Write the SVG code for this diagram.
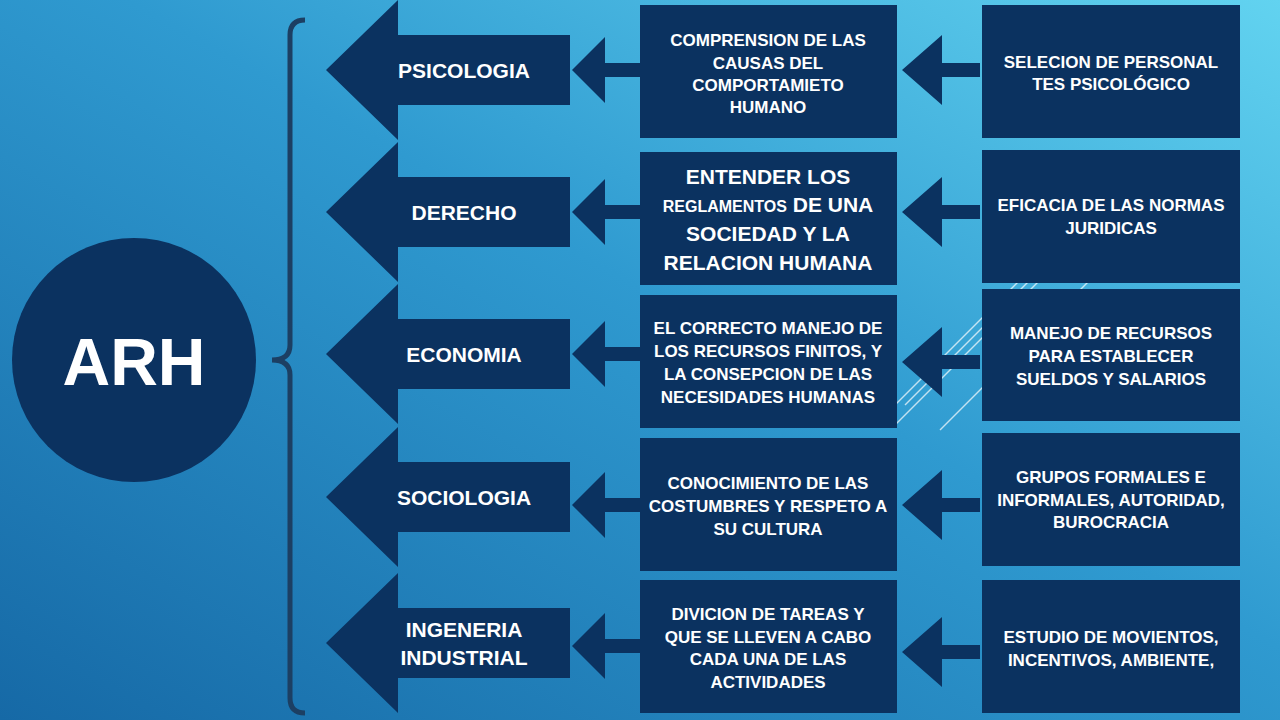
<svg xmlns="http://www.w3.org/2000/svg" width="1280" height="720" viewBox="0 0 1280 720">
<defs>
<linearGradient id="bg" x1="0" y1="1" x2="1" y2="0">
<stop offset="0" stop-color="#1669a6"/><stop offset="0.55" stop-color="#2f9ad0"/><stop offset="1" stop-color="#62d3f0"/>
</linearGradient>
<style>
.n{fill:#0b3260}
.t{fill:#fff;font-family:"Liberation Sans","DejaVu Sans",sans-serif;font-weight:bold;text-anchor:middle}
.s{font-size:17px}
.l{font-size:21px}
.d{stroke:#fff;stroke-width:1.5;opacity:0.7}
</style>
</defs>
<rect width="1280" height="720" fill="url(#bg)"/>
<g class="deco">
<line class="d" x1="880" y1="420" x2="1060" y2="240"/>
<line class="d" x1="895" y1="425" x2="1080" y2="240"/>
<line class="d" x1="905" y1="405" x2="1050" y2="260"/>
<line class="d" x1="940" y1="430" x2="1100" y2="270"/>
</g>
<g id="arh"><circle cx="134" cy="360" r="122" class="n"/><text x="134" y="385" class="t" font-size="66">ARH</text></g>
<g id="bracket"><path d="M305 20 Q290 20 290 35 V345 Q290 360 272 360 Q290 360 290 375 V698 Q290 713 305 713" fill="none" stroke="#1c3f63" stroke-width="5"/></g>
<g id="connectors" class="n">
<path d="M572 70 L605 37 V63 H640 V77 H605 V103 Z"/>
<path d="M572 212 L605 179 V205 H640 V219 H605 V245 Z"/>
<path d="M572 354 L605 321 V347 H640 V361 H605 V387 Z"/>
<path d="M572 505 L605 472 V498 H640 V512 H605 V538 Z"/>
<path d="M572 646 L605 613 V639 H640 V653 H605 V679 Z"/>
<path d="M902 70 L942 35 V63 H980 V77 H942 V105 Z"/>
<path d="M902 212 L942 177 V205 H980 V219 H942 V247 Z"/>
<path d="M902 362 L942 327 V355 H980 V369 H942 V397 Z"/>
<path d="M902 505 L942 470 V498 H980 V512 H942 V540 Z"/>
<path d="M902 652 L942 617 V645 H980 V659 H942 V687 Z"/>
</g>
<g id="psicologia"><path class="n" d="M326 70 L398 0 V35 H570 V105 H398 V140 Z"/><text x="464" y="78" class="t l">PSICOLOGIA</text></g>
<g id="derecho"><path class="n" d="M326 212 L398 142 V177 H570 V247 H398 V282 Z"/><text x="464" y="220" class="t l">DERECHO</text></g>
<g id="economia"><path class="n" d="M326 354 L398 284 V319 H570 V389 H398 V424 Z"/><text x="464" y="362" class="t l">ECONOMIA</text></g>
<g id="sociologia"><path class="n" d="M326 497 L398 427 V462 H570 V532 H398 V567 Z"/><text x="464" y="505" class="t l">SOCIOLOGIA</text></g>
<g id="ingenieria"><path class="n" d="M326 643 L398 573 V608 H570 V678 H398 V713 Z"/><text x="464" y="637" class="t l">INGENERIA</text><text x="464" y="665" class="t l">INDUSTRIAL</text></g>
<g id="m1"><rect x="640" y="5" width="257" height="133" class="n"/><text class="t s" x="768" y="46">COMPRENSION DE LAS</text><text class="t s" x="768" y="69">CAUSAS DEL</text><text class="t s" x="768" y="91">COMPORTAMIETO</text><text class="t s" x="768" y="113">HUMANO</text></g>
<g id="m2"><rect x="640" y="152" width="257" height="133" class="n"/><text class="t" font-size="21" x="768" y="184">ENTENDER LOS</text><text class="t" font-size="21" x="768" y="212"><tspan font-size="16">REGLAMENTOS</tspan> DE UNA</text><text class="t" font-size="21" x="768" y="241">SOCIEDAD Y LA</text><text class="t" font-size="21" x="768" y="270">RELACION HUMANA</text></g>
<g id="m3"><rect x="640" y="295" width="257" height="133" class="n"/><text class="t s" x="768" y="334">EL CORRECTO MANEJO DE</text><text class="t s" x="768" y="357">LOS RECURSOS FINITOS, Y</text><text class="t s" x="768" y="380">LA CONSEPCION DE LAS</text><text class="t s" x="768" y="403">NECESIDADES HUMANAS</text></g>
<g id="m4"><rect x="640" y="438" width="257" height="133" class="n"/><text class="t s" x="768" y="489">CONOCIMIENTO DE LAS</text><text class="t s" x="768" y="512">COSTUMBRES Y RESPETO A</text><text class="t s" x="768" y="535">SU CULTURA</text></g>
<g id="m5"><rect x="640" y="580" width="257" height="133" class="n"/><text class="t s" x="768" y="620">DIVICION DE TAREAS Y</text><text class="t s" x="768" y="643">QUE SE LLEVEN A CABO</text><text class="t s" x="768" y="665">CADA UNA DE LAS</text><text class="t s" x="768" y="688">ACTIVIDADES</text></g>
<g id="r1"><rect x="982" y="5" width="258" height="133" class="n"/><text class="t s" x="1111" y="68">SELECION DE PERSONAL</text><text class="t s" x="1111" y="90">TES PSICOLÓGICO</text></g>
<g id="r2"><rect x="982" y="150" width="258" height="133" class="n"/><text class="t s" x="1111" y="211">EFICACIA DE LAS NORMAS</text><text class="t s" x="1111" y="234">JURIDICAS</text></g>
<g id="r3"><rect x="982" y="289" width="258" height="132" class="n"/><text class="t s" x="1111" y="339">MANEJO DE RECURSOS</text><text class="t s" x="1111" y="362">PARA ESTABLECER</text><text class="t s" x="1111" y="385">SUELDOS Y SALARIOS</text></g>
<g id="r4"><rect x="982" y="433" width="258" height="133" class="n"/><text class="t s" x="1111" y="483">GRUPOS FORMALES E</text><text class="t s" x="1111" y="506">INFORMALES, AUTORIDAD,</text><text class="t s" x="1111" y="528">BUROCRACIA</text></g>
<g id="r5"><rect x="982" y="580" width="258" height="133" class="n"/><text class="t s" x="1111" y="643">ESTUDIO DE MOVIENTOS,</text><text class="t s" x="1111" y="666">INCENTIVOS, AMBIENTE,</text></g>
</svg>
